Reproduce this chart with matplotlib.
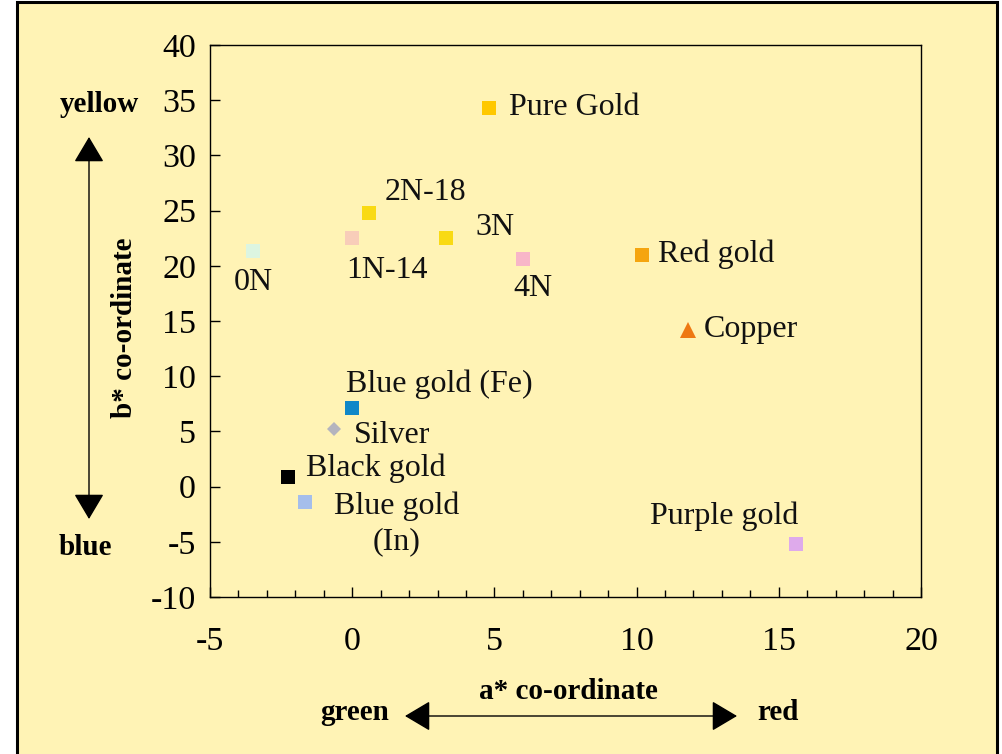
import matplotlib
matplotlib.use("Agg")
import matplotlib.pyplot as plt
from matplotlib.patches import Rectangle, FancyArrowPatch
from matplotlib.ticker import MultipleLocator

# alloy colour coordinates (CIELAB a*, b*)
names = ["Pure Gold", "2N-18", "1N-14", "3N", "0N", "4N", "Red gold", "Copper",
         "Blue gold (Fe)", "Silver", "Black gold", "Blue gold\n(In)", "Purple gold"]
a_star = [4.8, 0.6, 0.0, 3.3, -3.5, 6.0, 10.2, 11.8, 0.0, -0.65, -2.25, -1.65, 15.6]
b_star = [34.3, 24.8, 22.5, 22.5, 21.3, 20.6, 21.0, 14.2, 7.1, 5.2, 0.9, -1.4, -5.2]
colors = ["#FFC800", "#F9DA14", "#F8CDB9", "#F9DA14", "#DCF5E1", "#F8B6C8", "#F5A50F",
          "#EE7812", "#0F87C8", "#B4B4BE", "#000000", "#A5BEEB", "#DEAAEB"]
markers = ["s", "s", "s", "s", "s", "s", "s", "^", "s", "D", "s", "s", "s"]

# label placement: (dx px, dy px (down), ha)
label_offsets = [(20, 0, "left"), (15, -20, "left"), (-6, 32, "left"), (29, -11, "left"),
                 (1, 31, "center"), (-9, 29, "left"), (16, -1, "left"), (16, 0, "left"),
                 (-6, -24, "left"), (20, 6, "left"), (18, -8, "left"), (91, 22, "center"),
                 (3, -28, "right")]

W, H = 1002, 754
BG = "#FFF3B5"
FONT = "Liberation Serif"
plt.rcParams["font.family"] = FONT
plt.rcParams["axes.unicode_minus"] = False


def px(x, y):
    return (x / W, 1 - y / H)


fig = plt.figure(figsize=(W / 100, H / 100), dpi=100, facecolor="white")

# outer panel with black frame (open at the bottom)
fig.patches.append(Rectangle(px(17, 770), (996.5 - 17) / W, (770 - 1.5) / H,
                             transform=fig.transFigure, facecolor=BG,
                             edgecolor="black", linewidth=2.2, zorder=-5))

ax = fig.add_axes([210 / W, 1 - 597 / H, 711 / W, 552 / H])
ax.set_facecolor(BG)
ax.set_xlim(-5, 20)
ax.set_ylim(-10, 40)
ax.xaxis.set_major_locator(MultipleLocator(5))
ax.xaxis.set_minor_locator(MultipleLocator(1))
ax.yaxis.set_major_locator(MultipleLocator(5))
ax.tick_params(axis="x", which="major", direction="in", length=7, width=1,
               pad=21, labelsize=24.5)
ax.tick_params(axis="x", which="minor", direction="in", length=5, width=1)
ax.tick_params(axis="y", which="major", direction="in", length=7, width=1,
               pad=10, labelsize=24.5)
for lbl in ax.get_xticklabels() + ax.get_yticklabels():
    lbl.set_fontfamily(FONT)
for s in ["top", "right", "left", "bottom"]:
    ax.spines[s].set_linewidth(1)

for name, xa, yb, c, m, (dx, dy, ha) in zip(names, a_star, b_star, colors, markers,
                                             label_offsets):
    size = 10 if m == "s" else (11 if m == "^" else 7)
    ax.plot(xa, yb, marker=m, color=c, markersize=size, linestyle="none",
            markeredgewidth=0, zorder=3)
    ax.annotate(name, (xa, yb), xytext=(dx * 0.72, -dy * 0.72),
                textcoords="offset points", ha=ha, va="center",
                multialignment="center", fontsize=23, linespacing=1.3,
                color="#111111")

# axis titles and direction words
fig.text(*px(568, 699), "a* co-ordinate", ha="center", va="baseline",
         fontsize=21, fontweight="bold")
fig.text(*px(125, 328), "b* co-ordinate", ha="center", va="center",
         rotation=90, fontsize=21, fontweight="bold")
fig.text(*px(99, 112), "yellow", ha="center", va="baseline", fontsize=21,
         fontweight="bold")
fig.text(*px(85, 555), "blue", ha="center", va="baseline", fontsize=21,
         fontweight="bold")
fig.text(*px(355, 720), "green", ha="center", va="baseline", fontsize=21,
         fontweight="bold")
fig.text(*px(778, 720), "red", ha="center", va="baseline", fontsize=21,
         fontweight="bold")

style = "<|-|>,head_length=16,head_width=9.5"
fig.patches.append(FancyArrowPatch(px(89, 137), px(89, 519), arrowstyle=style,
                                   mutation_scale=1, transform=fig.transFigure,
                                   color="black", linewidth=1, shrinkA=0, shrinkB=0))
fig.patches.append(FancyArrowPatch(px(405, 716), px(737, 716), arrowstyle=style,
                                   mutation_scale=1, transform=fig.transFigure,
                                   color="black", linewidth=1, shrinkA=0, shrinkB=0))

fig.savefig("out.png", dpi=100, facecolor="white")
